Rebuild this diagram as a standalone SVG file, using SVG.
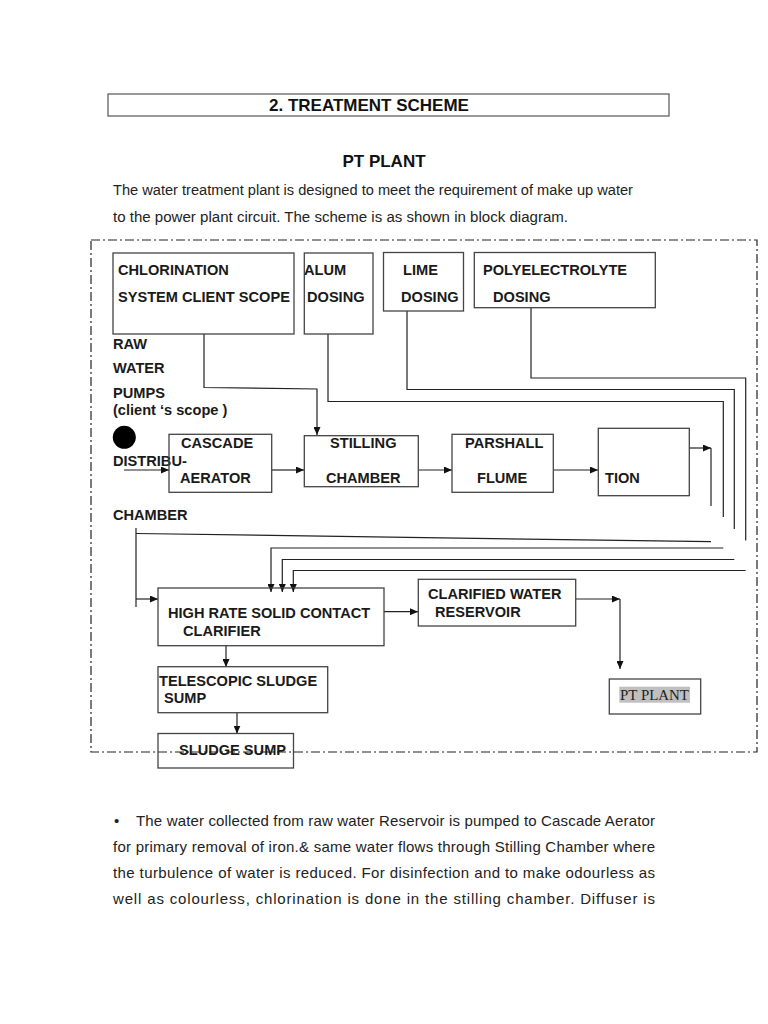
<svg xmlns="http://www.w3.org/2000/svg" width="768" height="1024" viewBox="0 0 768 1024">
<style>
.bg{fill:#ffffff}
.box{fill:none;stroke:#444;stroke-width:1.3}
.lbl{font-family:"Liberation Sans",Arial,sans-serif;font-weight:bold;font-size:14.6px;fill:#1a1a1a}
.body{font-family:"Liberation Sans",Arial,sans-serif;font-size:14px;fill:#222}
.para{font-family:"Liberation Sans",Arial,sans-serif;font-size:15px;fill:#222}
.head{font-family:"Liberation Sans",Arial,sans-serif;font-weight:bold;font-size:17px;fill:#111}
.ln{fill:none;stroke:#222;stroke-width:1.2}
.arr{fill:none;stroke:#222;stroke-width:1.2;marker-end:url(#ah)}
.frame{fill:none;stroke:#222;stroke-width:1.2;stroke-dasharray:9 3 2 3}
</style>
<defs>
<marker id="ah" markerUnits="userSpaceOnUse" markerWidth="8" markerHeight="7" refX="8" refY="3.5" orient="auto">
<path d="M0,0 L8,3.5 L0,7 z" fill="#111"/>
</marker>
</defs>
<rect class="bg" x="0" y="0" width="768" height="1024"/>

<g id="header">
<rect x="108" y="94" width="561" height="22" fill="none" stroke="#555" stroke-width="1.2"/>
<text class="head" x="369" y="111" text-anchor="middle">2. TREATMENT SCHEME</text>
<text class="head" x="384" y="167" text-anchor="middle">PT PLANT</text>
<text class="body" x="113" y="195" textLength="520" lengthAdjust="spacingAndGlyphs">The water treatment plant is designed to meet the requirement of make up water</text>
<text class="body" x="113" y="222" textLength="455" lengthAdjust="spacingAndGlyphs">to the power plant circuit. The scheme is as shown in block diagram.</text>
</g>

<rect id="frame" class="frame" x="91" y="240" width="666" height="512"/>

<g id="connectors">
<path class="arr" d="M204,334 V387.5 L317,389 V435"/>
<path class="ln" d="M328,334 V401.5 H723.3 V517"/>
<path class="ln" d="M407,311 V389.5 H734.3 V529"/>
<path class="ln" d="M531,308 V378 H745.7 V540.5"/>
<path class="arr" d="M689,448 H711"/>
<path class="ln" d="M711,448 V506"/>
<path class="ln" d="M136,528 V607"/>
<path class="arr" d="M136,599 H158"/>
<path class="ln" d="M136,533.5 L711,541.7"/>
<path class="arr" d="M723.3,548 H271 V592"/>
<path class="arr" d="M734.3,559.5 H282.3 V592"/>
<path class="arr" d="M745.7,570.5 H293.3 V592"/>
<path class="arr" d="M124,470 H169"/>
<path class="arr" d="M272,470 H304"/>
<path class="arr" d="M418,470 H452"/>
<path class="arr" d="M553,470 H598"/>
<path class="arr" d="M384,611.7 H418"/>
<path class="arr" d="M576,599 H620"/>
<path class="arr" d="M620,599 V669"/>
<path class="arr" d="M226,646 V667"/>
<path class="arr" d="M237,713 V733.5"/>
</g>

<g id="chlorination">
<rect class="box" x="113" y="253" width="181" height="81"/>
<text class="lbl" x="118" y="275">CHLORINATION</text>
<text class="lbl" x="118" y="302">SYSTEM CLIENT SCOPE</text>
</g>
<g id="alum">
<rect class="box" x="304.3" y="253" width="68.7" height="81"/>
<text class="lbl" x="304" y="275">ALUM</text>
<text class="lbl" x="307" y="302">DOSING</text>
</g>
<g id="lime">
<rect class="box" x="383.5" y="252.5" width="80" height="58.5"/>
<text class="lbl" x="403" y="275">LIME</text>
<text class="lbl" x="401" y="302">DOSING</text>
</g>
<g id="polyelectrolyte">
<rect class="box" x="474.3" y="252.5" width="181" height="55.2"/>
<text class="lbl" x="483" y="275">POLYELECTROLYTE</text>
<text class="lbl" x="493" y="302">DOSING</text>
</g>
<g id="raw-water-pumps">
<text class="lbl" x="113" y="349">RAW</text>
<text class="lbl" x="113" y="373">WATER</text>
<text class="lbl" x="113" y="398">PUMPS</text>
<text class="lbl" x="113" y="415">(client ‘s scope )</text>
</g>
<g id="distribution-chamber">
<circle cx="124.3" cy="437.3" r="11.5" fill="#000"/>
<text class="lbl" x="113" y="466">DISTRIBU-</text>
<text class="lbl" x="113" y="520">CHAMBER</text>
</g>
<g id="cascade-aerator">
<rect class="box" x="169" y="434.3" width="102.7" height="58"/>
<text class="lbl" x="181" y="448">CASCADE</text>
<text class="lbl" x="180" y="483">AERATOR</text>
</g>
<g id="stilling-chamber">
<rect class="box" x="304.3" y="435.7" width="114" height="51"/>
<text class="lbl" x="330" y="448">STILLING</text>
<text class="lbl" x="326" y="483">CHAMBER</text>
</g>
<g id="parshall-flume">
<rect class="box" x="452" y="434.3" width="101.3" height="58"/>
<text class="lbl" x="465" y="448">PARSHALL</text>
<text class="lbl" x="477" y="483">FLUME</text>
</g>
<g id="tion">
<rect class="box" x="598.3" y="428.3" width="91" height="67.4"/>
<text class="lbl" x="605" y="483">TION</text>
</g>
<g id="hrscc">
<rect class="box" x="158" y="588" width="226" height="57.7"/>
<text class="lbl" x="168" y="618">HIGH RATE SOLID CONTACT</text>
<text class="lbl" x="183" y="636">CLARIFIER</text>
</g>
<g id="clarified-water-reservoir">
<rect class="box" x="418.3" y="579.3" width="157.4" height="46.7"/>
<text class="lbl" x="428" y="599">CLARIFIED WATER</text>
<text class="lbl" x="435" y="617">RESERVOIR</text>
</g>
<g id="telescopic-sludge-sump">
<rect class="box" x="158" y="666.7" width="169.7" height="46"/>
<text class="lbl" x="159" y="686">TELESCOPIC SLUDGE</text>
<text class="lbl" x="164" y="703">SUMP</text>
</g>
<g id="sludge-sump">
<rect class="box" x="158" y="733.5" width="135.5" height="34.5"/>
<text class="lbl" x="179" y="755">SLUDGE SUMP</text>
</g>
<g id="pt-plant">
<rect class="box" x="609.3" y="679" width="91.4" height="35"/>
<rect x="619.3" y="686.7" width="70.7" height="16" fill="#c0c0c0"/>
<text x="620" y="699.5" font-family="'Liberation Serif','Times New Roman',serif" font-size="15px" fill="#222" textLength="69" lengthAdjust="spacingAndGlyphs">PT PLANT</text>
</g>

<g id="paragraph">
<text class="para" x="114" y="826">•</text>
<text class="para" x="136" y="826" textLength="519" lengthAdjust="spacing">The water collected from raw water Reservoir is pumped to Cascade Aerator</text>
<text class="para" x="113" y="852" textLength="542" lengthAdjust="spacing">for primary removal of iron.&amp; same water flows through Stilling Chamber where</text>
<text class="para" x="113" y="878" textLength="542" lengthAdjust="spacing">the turbulence of water is reduced. For disinfection and to make odourless as</text>
<text class="para" x="113" y="904" textLength="542" lengthAdjust="spacing">well as colourless, chlorination is done in the stilling chamber. Diffuser is</text>
</g>
</svg>
